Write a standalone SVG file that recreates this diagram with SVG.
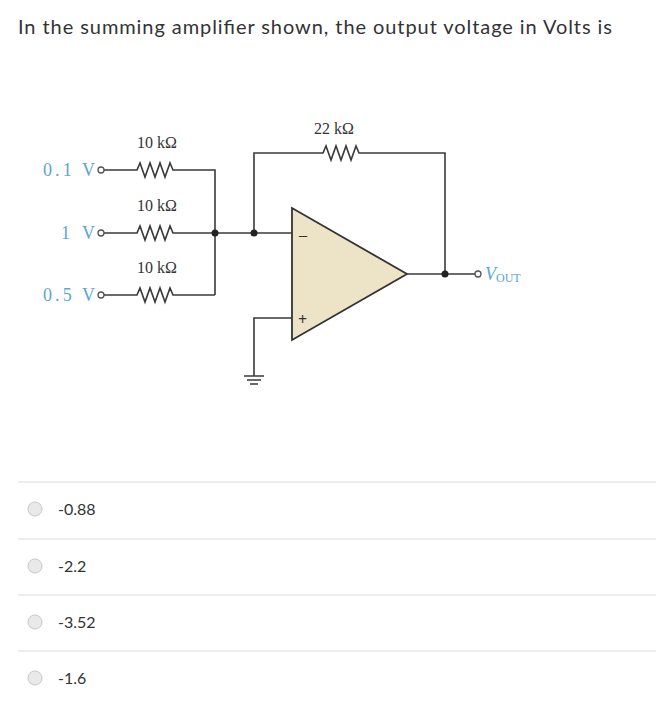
<svg xmlns="http://www.w3.org/2000/svg" width="656" height="708" viewBox="0 0 656 708">
<style>
.w{stroke:#3a3a3a;stroke-width:1.6;fill:none}
.lbl{font-family:"Liberation Serif",serif;font-size:16px;fill:#333}
.in{font-family:"Liberation Serif",serif;font-size:18px;fill:#5aa6d0}
.ans{font-family:Lato,sans-serif;font-size:16px;fill:#333}
.sep{stroke:#ddd;stroke-width:1}
.rad{fill:#e9e9e9;stroke:#c8c8c8;stroke-width:1}
</style>
<rect width="656" height="708" fill="#fff"/>
<text x="18" y="34" font-family="Lato,sans-serif" font-size="20" textLength="594" fill="#333">In the summing amplifier shown, the output voltage in Volts is</text>
<g id="opamp"><polygon points="292,208 292,340 407,274" fill="#ede3c6" stroke="#333" stroke-width="1.8"/>
<text x="299" y="240" class="lbl" font-size="13">–</text><text x="298" y="325" class="lbl" font-weight="bold" font-size="13">+</text></g>
<g id="connectors">
<path class="w" d="M104,170H137l3,-7 5,14 5,-14 5,14 5,-14 5,14 5,-14 3,7H215V295"/>
<path class="w" d="M104,233H137l3,-7 5,14 5,-14 5,14 5,-14 5,14 5,-14 3,7H292"/>
<path class="w" d="M104,295H137l3,-7 5,14 5,-14 5,14 5,-14 5,14 5,-14 3,7H215"/>
<path class="w" d="M254,233V153H323l3,-7 5,14 5,-14 5,14 5,-14 5,14 5,-14 3,7H445V274"/>
<path class="w" d="M407,274H475"/>
<path class="w" d="M292,318H254V376"/>
<path class="w" d="M244,376h20M247,380h14M250,384h8"/>
<circle cx="215" cy="233" r="3.5" fill="#222"/><circle cx="254" cy="233" r="3.5" fill="#222"/><circle cx="445" cy="274" r="3.5" fill="#222"/>
</g>
<g id="terminals" fill="#fff" stroke="#555" stroke-width="1.3">
<circle cx="101" cy="170" r="3"/><circle cx="101" cy="233" r="3"/><circle cx="101" cy="295" r="3"/><circle cx="478" cy="274" r="3"/></g>
<g id="labels">
<text x="43" y="176" class="in" textLength="52">0.1 V</text><text x="61" y="239" class="in" textLength="34">1 V</text><text x="43" y="301" class="in" textLength="52">0.5 V</text>
<text x="485" y="280" class="in" font-style="italic" font-size="18">V<tspan font-size="12" font-style="normal" dy="2">OUT</tspan></text>
<text x="157" y="148" class="lbl" text-anchor="middle">10 kΩ</text>
<text x="157" y="211" class="lbl" text-anchor="middle">10 kΩ</text>
<text x="157" y="273" class="lbl" text-anchor="middle">10 kΩ</text>
<text x="334" y="134" class="lbl" text-anchor="middle">22 kΩ</text>
</g>
<g id="answers">
<line class="sep" x1="18" y1="482" x2="656" y2="482"/><line class="sep" x1="18" y1="539" x2="656" y2="539"/><line class="sep" x1="18" y1="595" x2="656" y2="595"/><line class="sep" x1="18" y1="651" x2="656" y2="651"/>
<circle class="rad" cx="35" cy="509" r="7"/><text x="58" y="515" class="ans">-0.88</text>
<circle class="rad" cx="35" cy="566" r="7"/><text x="58" y="572" class="ans">-2.2</text>
<circle class="rad" cx="35" cy="622" r="7"/><text x="58" y="628" class="ans">-3.52</text>
<circle class="rad" cx="35" cy="678" r="7"/><text x="58" y="684" class="ans">-1.6</text>
</g>
</svg>
